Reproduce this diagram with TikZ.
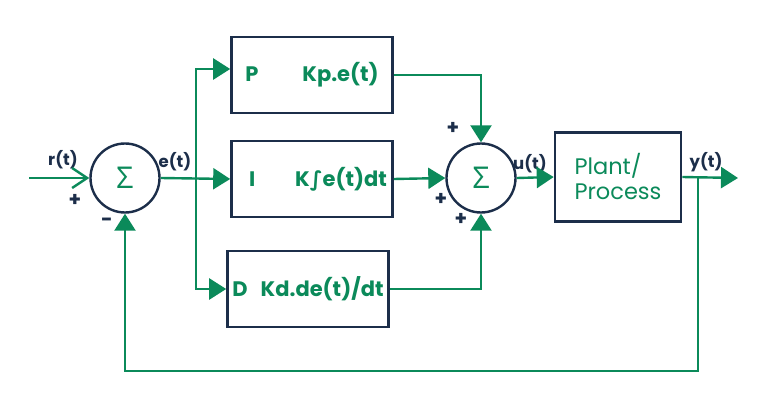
\documentclass[tikz,border=0pt]{standalone}
\usepackage{fontspec}
\setmainfont{Poppins}
\newfontfamily\sigmafont{Open Sans}
\newfontfamily\intfont{DejaVu Sans}
\usetikzlibrary{positioning, arrows.meta, calc}
\definecolor{pidgreen}{HTML}{0B8A5A}
\definecolor{pidnavy}{HTML}{1C2E4A}
\tikzset{
  blk/.style     = {rectangle, draw=pidnavy, line width=2.6pt, fill=white,
                    minimum width=161pt, minimum height=76pt, inner sep=0pt,
                    text=pidgreen, font=\fontsize{21}{23}\selectfont\bfseries},
  sumnode/.style = {circle, draw=pidnavy, line width=2.4pt, minimum size=69pt,
                    inner sep=0pt, text=pidgreen,
                    font=\sigmafont\fontsize{30}{32}\selectfont},
  sig/.style     = {text=pidnavy, font=\fontsize{16.5}{18}\selectfont\bfseries,
                    inner sep=0pt},
  sgn/.style     = {text=pidnavy, font=\fontsize{20}{20}\selectfont\bfseries,
                    inner sep=0pt},
  arr/.style     = {-{Triangle[length=17pt,width=21pt]}, line width=2.4pt,
                    draw=pidgreen},
  inarr/.style   = {-{Straight Barb[length=15pt,width=20pt]}, line width=2.4pt,
                    draw=pidgreen},
}

\begin{document}
\begin{tikzpicture}[x=1pt, y=-1pt]
  \useasboundingbox (0,0) rectangle (768,409);

  % summing junctions
  \node[sumnode] (sum1) at (125,178) {Σ};
  \node[sumnode] (sum2) at (481,178) {Σ};

  % P, I and D branches
  \node[blk] (P) at (312,75) {P\hspace{44pt}Kp.e(t)};
  \node[blk] (I) at (312,179) {\hspace*{12pt}I\hspace{40pt}K{\intfont ∫}e(t)dt};
  \node[blk] (D) at (308,289) {D\hspace{13pt}Kd.de(t)/dt};

  \node[blk, minimum width=126pt, minimum height=89pt, align=left,
        font=\fontsize{22.5}{25}\selectfont] (plant) at (618,177) {Plant/\\Process};

  % signal labels
  \node[sig] (rlbl) at (63,160) {r(t)};
  \node[sig] (elbl) at (175,162) {e(t)};
  \node[sig] (ulbl) at (530,164) {u(t)};
  \node[sig] (ylbl) at (706,162) {y(t)};
  \node[sgn] (s1p) at (75,200) {+};
  \node[sgn] (s1m) at (107,222) {-};
  \node[sgn] (s2a) at (453,128) {+};
  \node[sgn] (s2b) at (441,199) {+};
  \node[sgn] (s2c) at (461,219) {+};

  \coordinate (in) at (29,178);
  \coordinate (br) at (196,178);
  \coordinate (out) at (738,178);
  \coordinate (tap) at (698,178);
  \coordinate (fb) at (698,371);

  \draw[inarr] (in) -- (sum1.west);
  \draw[arr] (sum1.east) -- (I.west);
  \draw[arr] (br) |- ([yshift=6pt]P.west);
  \draw[arr] (br) |- (D.west);
  \draw[arr] (P.east) -| (sum2.north);
  \draw[arr] (I.east) -- (sum2.west);
  \draw[arr] (D.east) -| (sum2.south);
  \draw[arr] (sum2.east) -- (plant.west);
  \draw[arr] (plant.east) -- (out);
  \draw[arr] (tap) -- (fb) -| (sum1.south);

\end{tikzpicture}
\end{document}
